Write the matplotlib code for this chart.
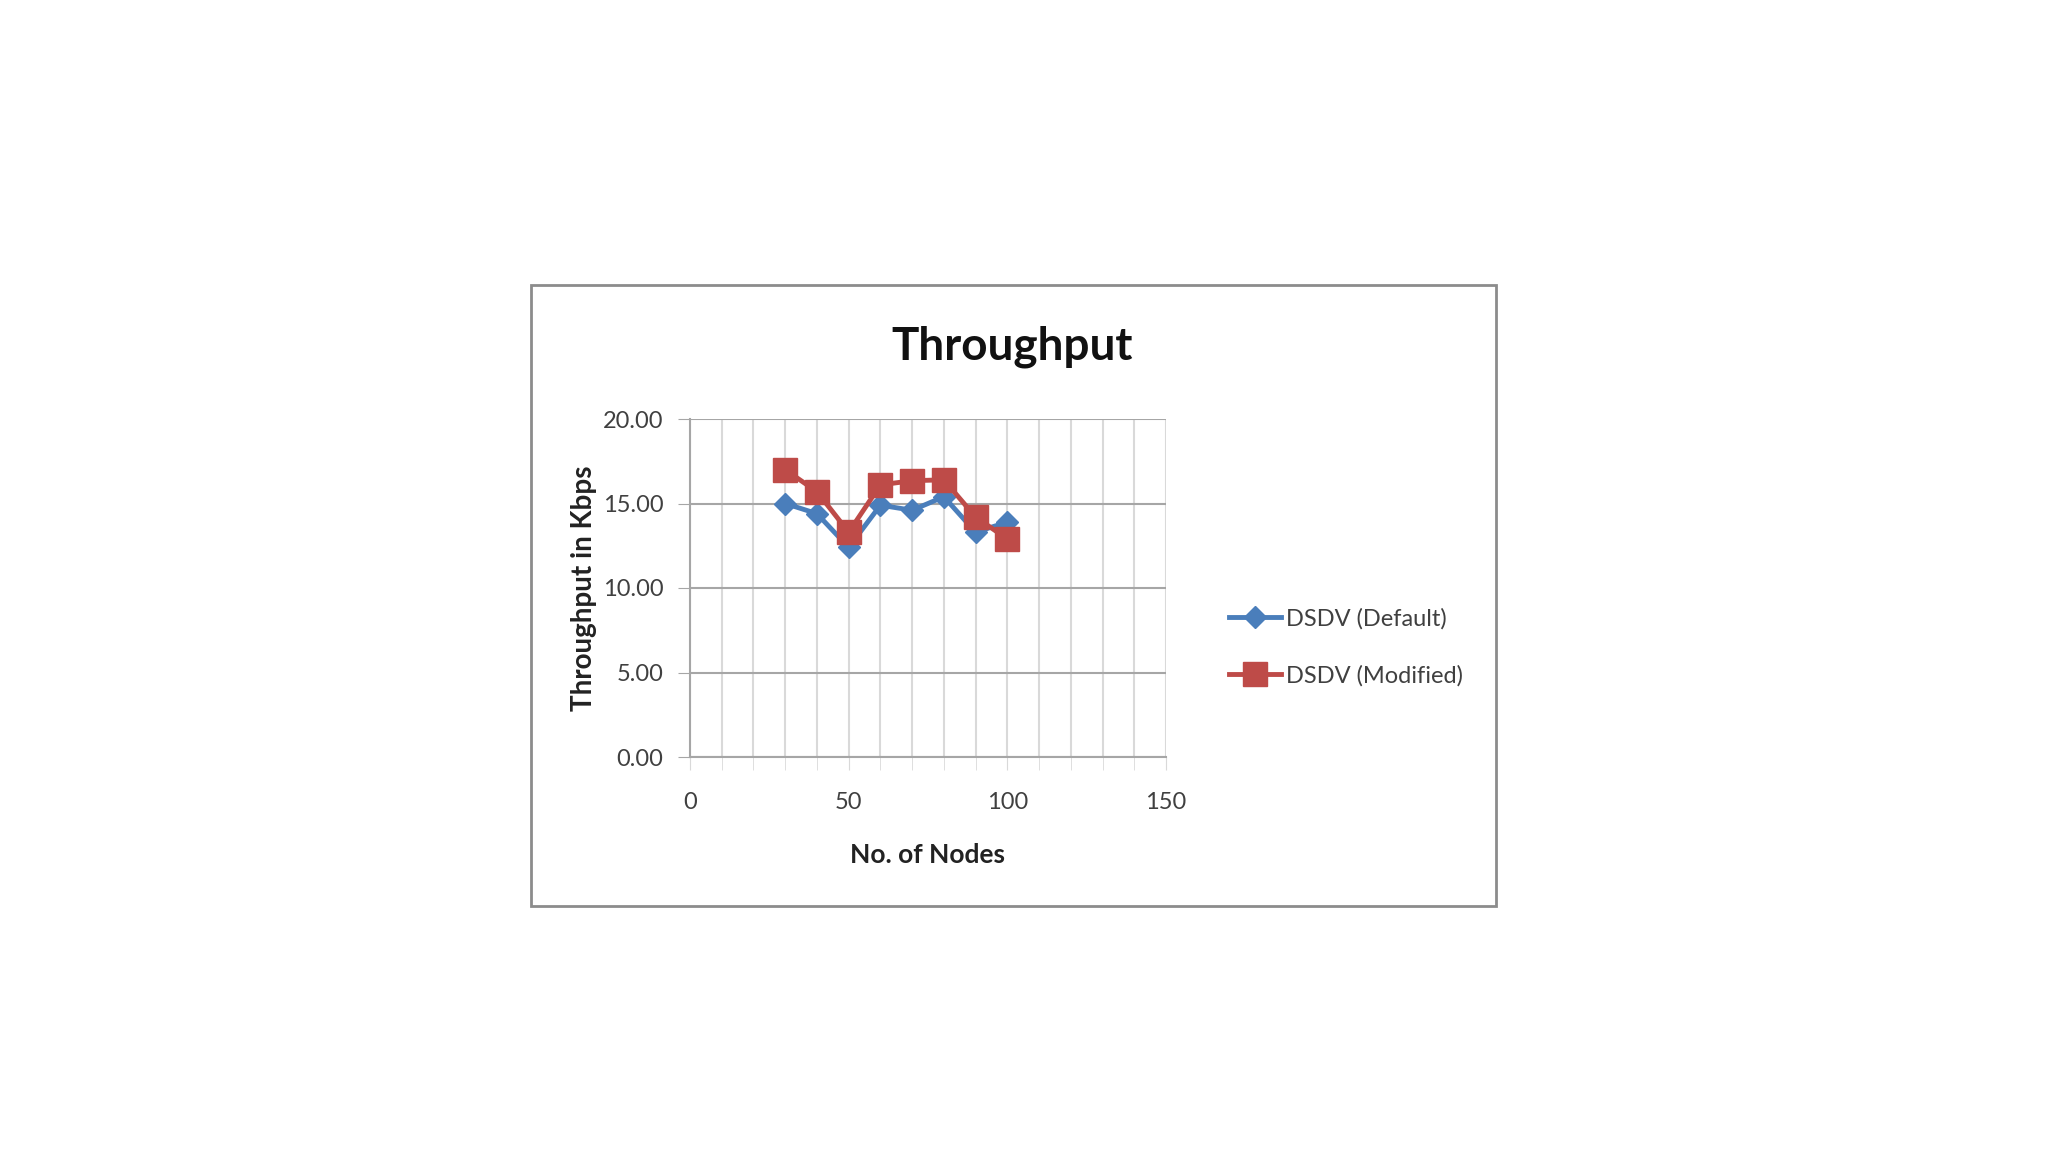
import matplotlib.pyplot as plt
from matplotlib.patches import Rectangle
from matplotlib.ticker import MultipleLocator, FormatStrFormatter

plt.rcParams['font.family'] = ['Lato', 'DejaVu Sans']

# data
nodes = [30, 40, 50, 60, 70, 80, 90, 100]
dsdv_default = [15.0, 14.4, 12.4, 14.9, 14.6, 15.4, 13.3, 13.9]
dsdv_modified = [17.0, 15.7, 13.3, 16.1, 16.35, 16.4, 14.2, 12.9]

title = "Throughput"
xlabel = "No. of Nodes"
ylabel = "Throughput in Kbps"
labels = ["DSDV (Default)", "DSDV (Modified)"]

blue = "#4a7ebb"
red = "#be4b48"
grid_major = "#a6a6a6"
grid_minor = "#d9d9d9"
text_col = "#404040"

fig = plt.figure(figsize=(20.48, 11.52), dpi=100)
fig.patch.set_facecolor("white")

# chart frame
fig.patches.append(Rectangle((531 / 2048, 1 - 906 / 1152), 965 / 2048, 621 / 1152,
                             transform=fig.transFigure, fill=False,
                             edgecolor="#8c8c8c", linewidth=2))

ax = fig.add_axes([690 / 2048, 1 - 757 / 1152, 476 / 2048, 338 / 1152])

ax.plot(nodes, dsdv_default, color=blue, linewidth=3.5, marker="D",
        markersize=11, label=labels[0], zorder=3)
ax.plot(nodes, dsdv_modified, color=red, linewidth=3.5, marker="s",
        markersize=17, label=labels[1], zorder=4)

ax.set_xlim(0, 150)
ax.set_ylim(0, 20)
ax.xaxis.set_major_locator(MultipleLocator(50))
ax.xaxis.set_minor_locator(MultipleLocator(10))
ax.yaxis.set_major_locator(MultipleLocator(5))
ax.yaxis.set_major_formatter(FormatStrFormatter("%.2f"))

ax.grid(True, which="major", axis="y", color=grid_major, linewidth=1.5)
ax.grid(True, which="both", axis="x", color=grid_minor, linewidth=1.5)
ax.set_axisbelow(True)

for side in ["top", "right"]:
    ax.spines[side].set_visible(False)
for side in ["left", "bottom"]:
    ax.spines[side].set_color(grid_major)
    ax.spines[side].set_linewidth(1.5)

ax.tick_params(axis="both", which="both", direction="out", length=9,
               color=grid_minor, labelsize=17, labelcolor=text_col, pad=10)
ax.tick_params(axis="x", which="major", pad=16)
ax.tick_params(axis="y", color=grid_major)

ax.set_xlabel(xlabel, fontsize=19, fontweight="bold", color="#222222", labelpad=22)
ax.set_ylabel(ylabel, fontsize=20, fontweight="bold", color="#222222", labelpad=4)

fig.text(1012 / 2048, 1 - 347 / 1152, title, fontsize=33, fontweight="bold",
         ha="center", va="center", color="#111111")

fig.legend(loc="center left", bbox_to_anchor=(1208 / 2048, 1 - 647 / 1152),
           frameon=False, fontsize=17, handlelength=2.2, labelspacing=1.5,
           handletextpad=0.2, labelcolor=text_col)

fig.savefig("out.png", dpi=100)
